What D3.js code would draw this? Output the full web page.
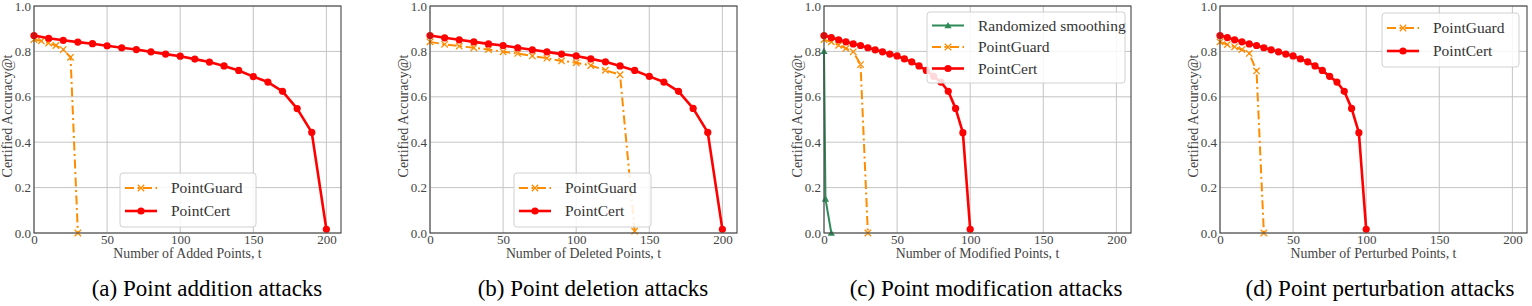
<!DOCTYPE html>
<html><head><meta charset="utf-8">
<script src="https://cdn.jsdelivr.net/npm/d3@7"></script>
<style>
html,body{margin:0;padding:0;background:#fff;}
svg{display:block;}
</style></head>
<body>
<svg id="chart" width="1532" height="306"></svg>
<script>
// ---------- data ----------
const xTicks = [0, 50, 100, 150, 200];
const yTicks = [0.0, 0.2, 0.4, 0.6, 0.8, 1.0];

const certT10 = [0,10,20,30,40,50,60,70,80,90,100,110,120,130,140,150,160,170,180,190,200];
const certT5  = [0,5,10,15,20,25,30,35,40,45,50,55,60,65,70,75,80,85,90,95,100];
const certAdd = [0.870,0.858,0.849,0.841,0.834,0.825,0.816,0.808,0.798,0.788,0.779,0.766,0.753,0.736,0.716,0.689,0.665,0.624,0.548,0.443,0.016];
const certDel = [0.870,0.860,0.851,0.842,0.833,0.826,0.816,0.807,0.798,0.788,0.780,0.767,0.754,0.736,0.716,0.690,0.665,0.624,0.549,0.443,0.016];
const certMod = [0.870,0.861,0.851,0.842,0.833,0.826,0.816,0.807,0.798,0.788,0.780,0.767,0.754,0.736,0.716,0.690,0.665,0.624,0.549,0.442,0.016];
const certPer = [0.870,0.861,0.851,0.842,0.833,0.826,0.816,0.807,0.798,0.788,0.780,0.767,0.754,0.736,0.716,0.690,0.665,0.624,0.549,0.442,0.016];

const guardT30  = [0,5,10,15,20,25,30];
const guardAdd  = [0.852,0.846,0.837,0.826,0.808,0.774,0.0];
const guardDelT = [0,10,20,30,40,50,60,70,80,90,100,110,120,130,140];
const guardDel  = [0.842,0.831,0.823,0.816,0.808,0.798,0.791,0.780,0.770,0.758,0.750,0.738,0.717,0.697,0.008];
const guardMod  = [0.852,0.842,0.827,0.813,0.798,0.742,0.0];
const guardPer  = [0.842,0.830,0.820,0.808,0.791,0.714,0.0];

const smoothT = [0, 1, 5];
const smoothMod = [0.80, 0.15, 0.0];

const xLabels = ["Number of Added Points, t","Number of Deleted Points, t","Number of Modified Points, t","Number of Perturbed Points, t"];
const captions = ["(a) Point addition attacks","(b) Point deletion attacks","(c) Point modification attacks","(d) Point perturbation attacks"];
const yLabel = "Certified Accuracy@t";

// ---------- styles ----------
const RED = "#ff0000", ORANGE = "#ff8c00", GREEN = "#2e8b57";
const seriesStyle = {
  "Randomized smoothing": {color: GREEN, width: 2, dash: null, marker: "tri"},
  "PointGuard": {color: ORANGE, width: 2, dash: "9,3.5,2,3.5", marker: "x"},
  "PointCert": {color: RED, width: 2.6, dash: null, marker: "dot"}
};

const panels = [
  {series: [["PointGuard", guardT30, guardAdd], ["PointCert", certT10, certAdd]], legend: {x: 86, y: 167, w: 136}},
  {series: [["PointGuard", guardDelT, guardDel], ["PointCert", certT10, certDel]], legend: {x: 84, y: 167, w: 137}},
  {series: [["Randomized smoothing", smoothT, smoothMod], ["PointGuard", guardT30, guardMod], ["PointCert", certT5, certMod]], legend: {x: 103, y: 6, w: 198}},
  {series: [["PointGuard", guardT30, guardPer], ["PointCert", certT5, certPer]], legend: {x: 162, y: 7, w: 137}}
];

// ---------- layout ----------
const panelLeft = [34, 430, 824, 1220];
const PW = 307, TOP = 6, BOTTOM = 233;
const captionCx = [207, 593, 986, 1380];
const SERIF = "'Liberation Serif','DejaVu Serif',serif";

const svg = d3.select("#chart");

function drawMarker(g, kind, x, y, color) {
  if (kind === "dot") {
    g.append("circle").attr("cx", x).attr("cy", y).attr("r", 3.6).attr("fill", color);
  } else if (kind === "x") {
    const s = 3.2;
    g.append("path").attr("d", `M${x-s},${y-s}L${x+s},${y+s}M${x-s},${y+s}L${x+s},${y-s}`)
      .attr("stroke", color).attr("stroke-width", 1.3).attr("fill", "none");
  } else if (kind === "tri") {
    const s = 3.6;
    g.append("path").attr("d", `M${x},${y-s}L${x+s},${y+s*0.75}L${x-s},${y+s*0.75}Z`).attr("fill", color);
  }
}

panels.forEach((p, i) => {
  const L = panelLeft[i];
  const x = d3.scaleLinear().domain([0, 210]).range([L, L + PW]);
  const y = d3.scaleLinear().domain([0, 1]).range([BOTTOM, TOP]);
  const g = svg.append("g");

  // grid
  g.append("g").selectAll("line").data(xTicks).join("line")
    .attr("x1", d => x(d)).attr("x2", d => x(d)).attr("y1", TOP).attr("y2", BOTTOM)
    .attr("stroke", "#c4c4c4").attr("stroke-width", 1);
  g.append("g").selectAll("line").data(yTicks).join("line")
    .attr("x1", L).attr("x2", L + PW).attr("y1", d => y(d)).attr("y2", d => y(d))
    .attr("stroke", "#c4c4c4").attr("stroke-width", 1);

  // axes (labels only, ticks hidden)
  const xa = g.append("g").attr("transform", `translate(0,${BOTTOM})`)
    .call(d3.axisBottom(x).tickValues(xTicks).tickFormat(d3.format("d")).tickSize(0).tickPadding(2));
  const ya = g.append("g").attr("transform", `translate(${L},0)`)
    .call(d3.axisLeft(y).tickValues(yTicks).tickFormat(d3.format(".1f")).tickSize(0).tickPadding(3));
  [xa, ya].forEach(a => {
    a.select(".domain").remove();
    a.selectAll("text").attr("font-family", SERIF).attr("font-size", 13).attr("fill", "#444");
  });

  // lines
  const clip = "clip" + i;
  svg.append("clipPath").attr("id", clip).append("rect")
    .attr("x", L - 5).attr("y", TOP - 5).attr("width", PW + 10).attr("height", BOTTOM - TOP + 10);
  const lg = g.append("g").attr("clip-path", `url(#${clip})`);
  p.series.forEach(([name, ts, vs]) => {
    const st = seriesStyle[name];
    const pts = ts.map((t, k) => [x(t), y(vs[k])]);
    lg.append("path").attr("d", d3.line()(pts)).attr("fill", "none")
      .attr("stroke", st.color).attr("stroke-width", st.width)
      .attr("stroke-dasharray", st.dash).attr("stroke-linejoin", "round");
    pts.forEach(([px, py]) => drawMarker(lg, st.marker, px, py, st.color));
  });

  // frame
  g.append("rect").attr("x", L).attr("y", TOP).attr("width", PW).attr("height", BOTTOM - TOP)
    .attr("fill", "none").attr("stroke", "#444").attr("stroke-width", 1.1);

  // legend
  const lgd = p.legend;
  const n = p.series.length;
  const rowH = n > 2 ? 21.5 : 23;
  const first = n > 2 ? 13.5 : 15;
  const legH = n > 2 ? 71 : 54;
  const leg = g.append("g").attr("transform", `translate(${L + lgd.x},${TOP + lgd.y})`);
  leg.append("rect").attr("width", lgd.w).attr("height", legH).attr("rx", 3)
    .attr("fill", "#fff").attr("fill-opacity", 0.85).attr("stroke", "#d0d0d0");
  p.series.forEach(([name], k) => {
    const st = seriesStyle[name];
    const cy = first + k * rowH;
    leg.append("line").attr("x1", 5).attr("x2", 37).attr("y1", cy).attr("y2", cy)
      .attr("stroke", st.color).attr("stroke-width", st.width).attr("stroke-dasharray", st.dash);
    drawMarker(leg, st.marker, 21, cy, st.color);
    leg.append("text").attr("x", 51).attr("y", cy).attr("dy", "0.35em")
      .attr("font-family", SERIF).attr("font-size", 15.5).attr("fill", "#333").text(name);
  });

  // axis labels
  g.append("text").attr("x", L + PW / 2).attr("y", 258).attr("text-anchor", "middle")
    .attr("font-family", SERIF).attr("font-size", 13.8).attr("fill", "#444").text(xLabels[i]);
  g.append("text").attr("transform", `translate(${L - 22},${116}) rotate(-90)`)
    .attr("text-anchor", "middle").attr("font-family", SERIF).attr("font-size", 14).attr("fill", "#444")
    .text(yLabel);

  // caption
  svg.append("text").attr("x", captionCx[i]).attr("y", 296).attr("text-anchor", "middle")
    .attr("font-family", "'Liberation Serif','Times New Roman',serif").attr("font-size", 23).attr("fill", "#000")
    .text(captions[i]);
});
</script>
</body></html>
